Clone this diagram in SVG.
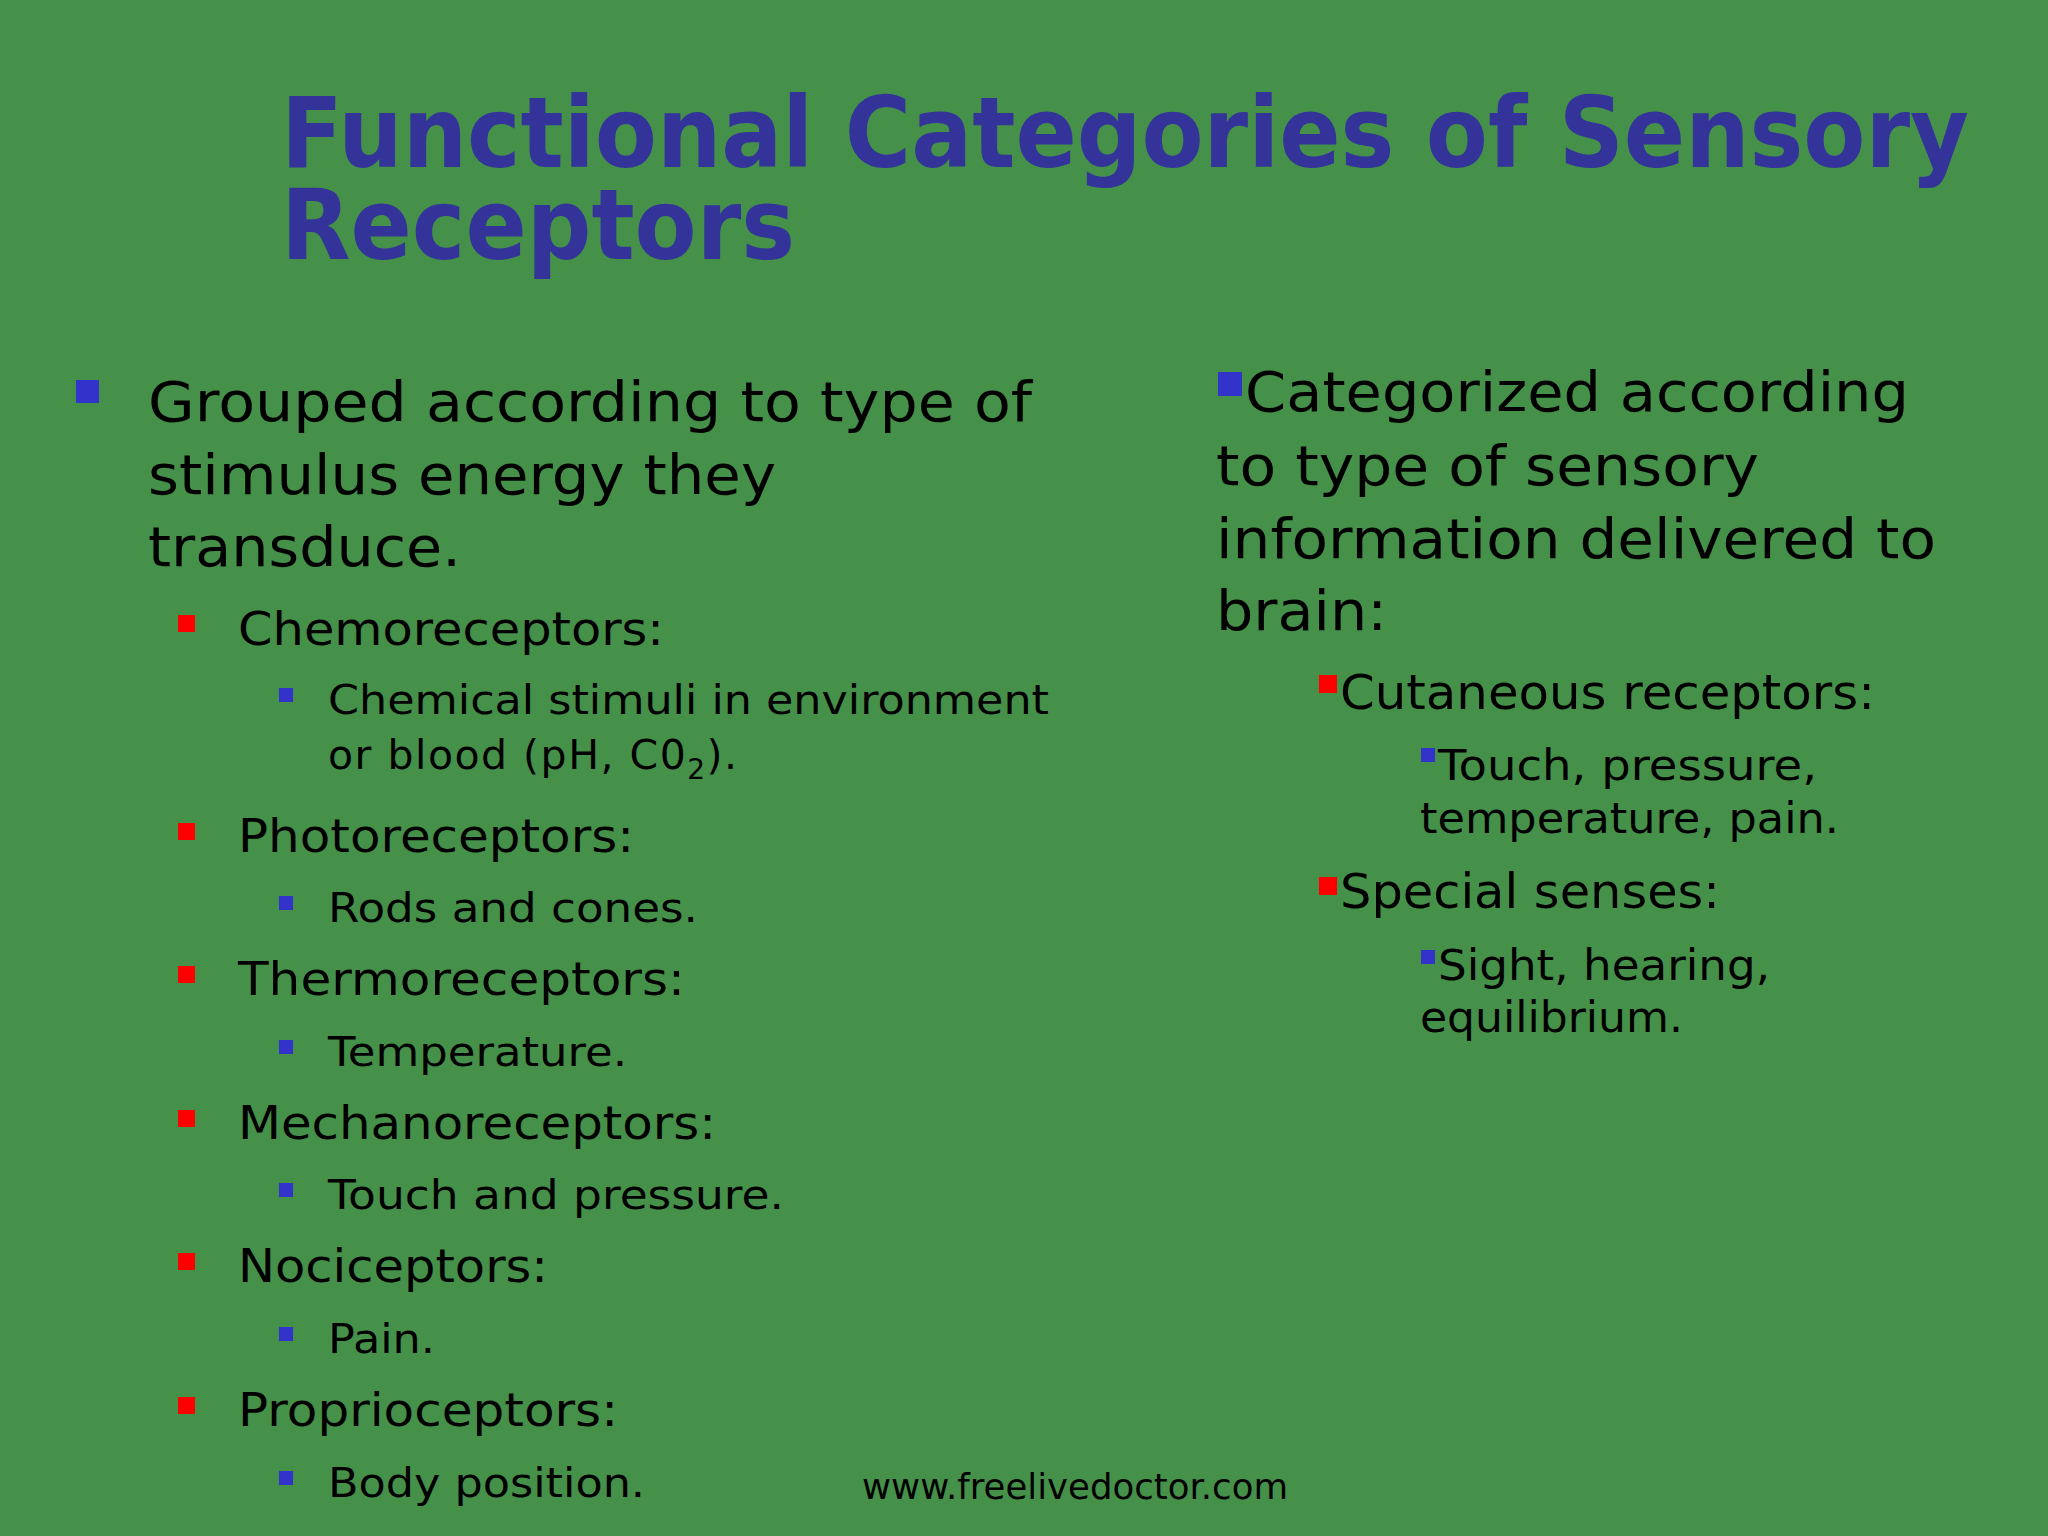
<svg xmlns="http://www.w3.org/2000/svg" width="2048" height="1536" viewBox="0 0 2048 1536">
<style>
text{font-family:"DejaVu Sans",Verdana,sans-serif;fill:#000}
.t{font-weight:bold;fill:#333399;font-size:98px}
.l0{font-size:55px}
.l1{font-size:46px}
.l2{font-size:41px}
.r0{font-size:55px}
.r1{font-size:48px}
.r2{font-size:43px}
.b{fill:#3333cc}
.r{fill:#ff0000}
</style>
<rect width="2048" height="1536" fill="#46914a"/>
<g id="title">
<text class="t" x="281" y="167" textLength="1688" lengthAdjust="spacingAndGlyphs">Functional Categories of Sensory</text>
<text class="t" x="281" y="259" textLength="514" lengthAdjust="spacingAndGlyphs">Receptors</text>
</g>
<g id="left">
<rect class="b" x="76" y="380" width="23" height="23"/>
<text class="l0" x="148" y="421" textLength="884" lengthAdjust="spacingAndGlyphs">Grouped according to type of</text>
<text class="l0" x="148" y="494" textLength="628" lengthAdjust="spacingAndGlyphs">stimulus energy they</text>
<text class="l0" x="148" y="566" textLength="313" lengthAdjust="spacingAndGlyphs">transduce.</text>
<rect class="r" x="178" y="615" width="17" height="17"/>
<text class="l1" x="238" y="645" textLength="426" lengthAdjust="spacingAndGlyphs">Chemoreceptors:</text>
<rect class="b" x="279" y="688" width="14" height="14"/>
<text class="l2" x="328" y="714" textLength="721" lengthAdjust="spacingAndGlyphs">Chemical stimuli in environment</text>
<text class="l2" x="328" y="769" letter-spacing="1.5">or blood (pH, C0<tspan font-size="28" dy="10">2</tspan><tspan dy="-10">).</tspan></text>
<rect class="r" x="178" y="823" width="17" height="17"/>
<text class="l1" x="238" y="852" textLength="396" lengthAdjust="spacingAndGlyphs">Photoreceptors:</text>
<rect class="b" x="279" y="896" width="14" height="14"/>
<text class="l2" x="328" y="922" textLength="370" lengthAdjust="spacingAndGlyphs">Rods and cones.</text>
<rect class="r" x="178" y="966" width="17" height="17"/>
<text class="l1" x="238" y="995" textLength="447" lengthAdjust="spacingAndGlyphs">Thermoreceptors:</text>
<rect class="b" x="279" y="1040" width="14" height="14"/>
<text class="l2" x="328" y="1066" textLength="299" lengthAdjust="spacingAndGlyphs">Temperature.</text>
<rect class="r" x="178" y="1110" width="17" height="17"/>
<text class="l1" x="238" y="1139" textLength="478" lengthAdjust="spacingAndGlyphs">Mechanoreceptors:</text>
<rect class="b" x="279" y="1183" width="14" height="14"/>
<text class="l2" x="328" y="1209" textLength="456" lengthAdjust="spacingAndGlyphs">Touch and pressure.</text>
<rect class="r" x="178" y="1253" width="17" height="17"/>
<text class="l1" x="238" y="1282" textLength="310" lengthAdjust="spacingAndGlyphs">Nociceptors:</text>
<rect class="b" x="279" y="1327" width="14" height="14"/>
<text class="l2" x="328" y="1353" textLength="107" lengthAdjust="spacingAndGlyphs">Pain.</text>
<rect class="r" x="178" y="1397" width="17" height="17"/>
<text class="l1" x="238" y="1426" textLength="380" lengthAdjust="spacingAndGlyphs">Proprioceptors:</text>
<rect class="b" x="279" y="1471" width="14" height="14"/>
<text class="l2" x="328" y="1497" textLength="317" lengthAdjust="spacingAndGlyphs">Body position.</text>
</g>
<g id="right">
<rect class="b" x="1218" y="372" width="24" height="24"/>
<text class="r0" x="1245" y="411" textLength="664" lengthAdjust="spacingAndGlyphs">Categorized according</text>
<text class="r0" x="1216" y="485" textLength="543" lengthAdjust="spacingAndGlyphs">to type of sensory</text>
<text class="r0" x="1216" y="558" textLength="720" lengthAdjust="spacingAndGlyphs">information delivered to</text>
<text class="r0" x="1216" y="630" textLength="171" lengthAdjust="spacingAndGlyphs">brain:</text>
<rect class="r" x="1319" y="675" width="18" height="18"/>
<text class="r1" x="1340" y="709" textLength="535" lengthAdjust="spacingAndGlyphs">Cutaneous receptors:</text>
<rect class="b" x="1421" y="748" width="14" height="14"/>
<text class="r2" x="1438" y="780" textLength="379" lengthAdjust="spacingAndGlyphs">Touch, pressure,</text>
<text class="r2" x="1420" y="833" textLength="419" lengthAdjust="spacingAndGlyphs">temperature, pain.</text>
<rect class="r" x="1319" y="877" width="18" height="18"/>
<text class="r1" x="1340" y="908" textLength="380" lengthAdjust="spacingAndGlyphs">Special senses:</text>
<rect class="b" x="1421" y="950" width="14" height="14"/>
<text class="r2" x="1438" y="980" textLength="332" lengthAdjust="spacingAndGlyphs">Sight, hearing,</text>
<text class="r2" x="1420" y="1032" textLength="263" lengthAdjust="spacingAndGlyphs">equilibrium.</text>
</g>
<g id="footer">
<text x="862" y="1499" font-size="36" textLength="426" lengthAdjust="spacingAndGlyphs">www.freelivedoctor.com</text>
</g>
</svg>
